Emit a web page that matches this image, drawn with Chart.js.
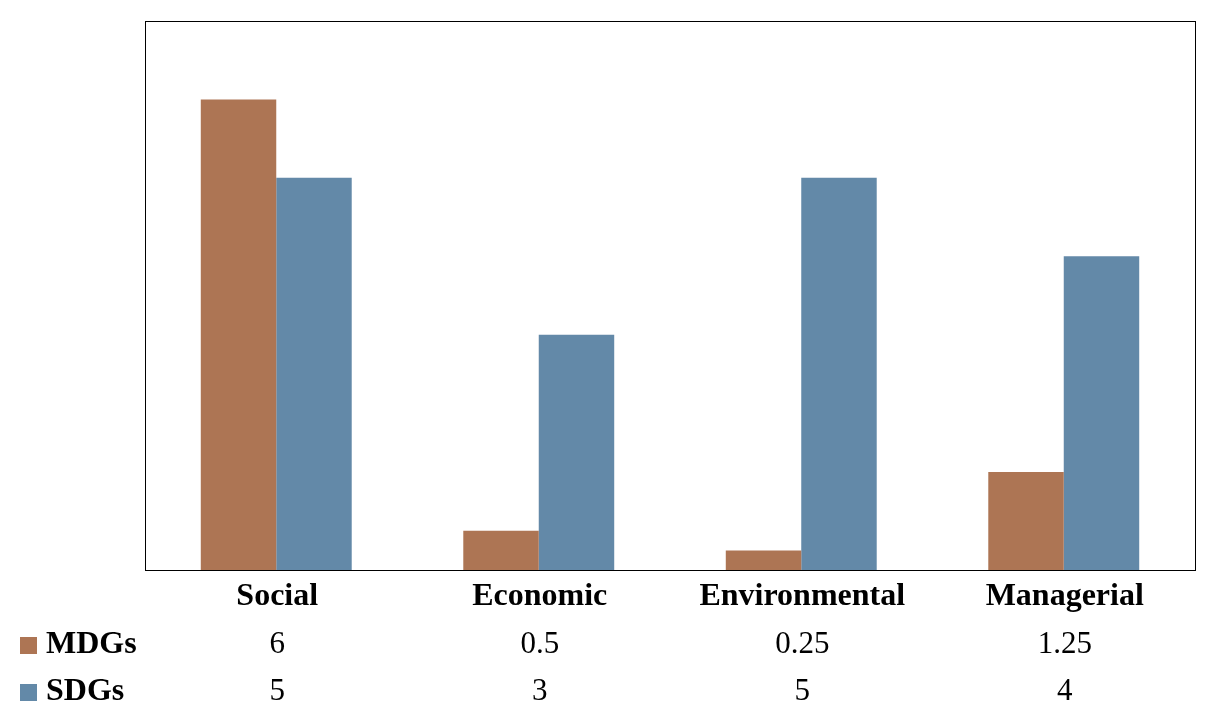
<!DOCTYPE html>
<html>
<head>
<meta charset="utf-8">
<script src="https://cdn.jsdelivr.net/npm/chart.js@4/dist/chart.umd.min.js"></script>
<style>
html,body{margin:0;padding:0;background:#fff;}
#wrap{width:1212px;height:721px;position:relative;}
</style>
</head>
<body>
<div id="wrap"><canvas id="c" width="1212" height="721"></canvas></div>
<script>
const categories = ["Social", "Economic", "Environmental", "Managerial"];
const mdgs = [6, 0.5, 0.25, 1.25];
const sdgs = [5, 3, 5, 4];
const mdgLabels = ["6", "0.5", "0.25", "1.25"];
const sdgLabels = ["5", "3", "5", "4"];
const seriesNames = ["MDGs", "SDGs"];
const colors = ["#AD7554", "#6389A8"];

const FONT = "'Liberation Serif', 'DejaVu Serif', serif";

const tablePlugin = {
  id: 'tablePlugin',
  afterDraw(chart) {
    const ctx = chart.ctx;
    const xs = chart.scales.x;
    const area = chart.chartArea;
    ctx.save();
    ctx.strokeStyle = '#000';
    ctx.lineWidth = 1;
    ctx.strokeRect(Math.round(area.left) + 0.5, Math.round(area.top) + 0.5,
      Math.round(area.right - area.left), Math.round(area.bottom - area.top));
    ctx.textAlign = 'center';
    ctx.textBaseline = 'middle';
    ctx.fillStyle = '#000';
    ctx.font = "bold 32px " + FONT;
    categories.forEach((c, i) => {
      ctx.fillText(c, xs.getPixelForValue(i) + 1, 597);
    });
    ctx.font = "31px " + FONT;
    const rows = [mdgLabels, sdgLabels];
    const rowY = [645, 692];
    rows.forEach((r, ri) => {
      r.forEach((v, i) => {
        ctx.fillText(v, xs.getPixelForValue(i) + 1, rowY[ri]);
      });
    });
    ctx.textAlign = 'left';
    ctx.font = "bold 32px " + FONT;
    seriesNames.forEach((n, ri) => {
      ctx.fillStyle = colors[ri];
      ctx.fillRect(20, rowY[ri] - 8, 17, 17);
      ctx.fillStyle = '#000';
      ctx.fillText(n, 46, rowY[ri]);
    });
    ctx.restore();
  }
};

new Chart(document.getElementById('c'), {
  type: 'bar',
  data: {
    labels: categories,
    datasets: [
      { label: seriesNames[0], data: mdgs, backgroundColor: colors[0], borderWidth: 0 },
      { label: seriesNames[1], data: sdgs, backgroundColor: colors[1], borderWidth: 0 }
    ]
  },
  options: {
    responsive: false,
    animation: false,
    events: [],
    layout: { padding: { left: 145, right: 17, top: 21, bottom: 151 } },
    datasets: { bar: { categoryPercentage: 0.575, barPercentage: 1.0 } },
    plugins: { legend: { display: false }, tooltip: { enabled: false } },
    scales: {
      x: { display: false },
      y: { display: false, min: 0, max: 7 }
    }
  },
  plugins: [tablePlugin]
});
</script>
</body>
</html>
